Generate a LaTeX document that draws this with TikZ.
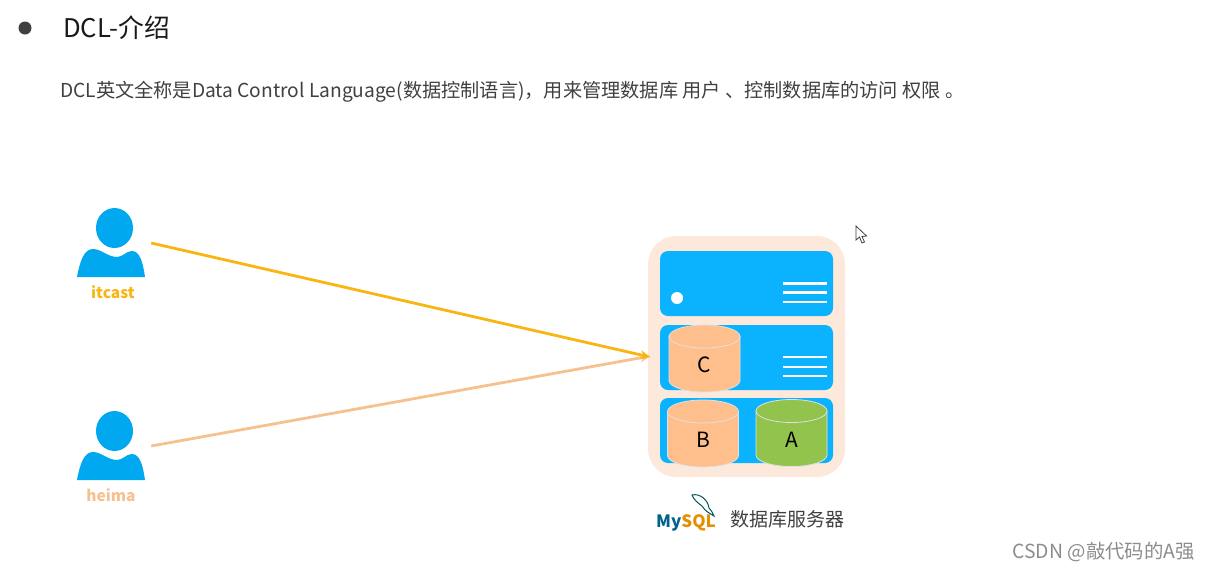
\documentclass[tikz,border=0pt]{standalone}
\usepackage{fontspec}
\setmainfont{Noto Sans CJK SC}
\usetikzlibrary{arrows.meta}
\definecolor{slotblue}{HTML}{0BB3FF}
\definecolor{userblue}{HTML}{00A8F0}
\definecolor{serverbg}{HTML}{FCE9DC}
\definecolor{dbpeach}{HTML}{FFBF8C}
\definecolor{dbgreen}{HTML}{92C34D}
\definecolor{linkgold}{HTML}{F9B612}
\definecolor{linkpeach}{HTML}{F6C18F}
\definecolor{textgray}{HTML}{404040}
\tikzset{
	usericon/.pic={
		\fill[userblue] (3.5,-15) ellipse [x radius=18.5, y radius=20];
		\fill[userblue] (-34,34) .. controls (-31,18) and (-27,6) .. (-18,6)
			.. controls (-10,6) and (-3,14) .. (6,14)
			.. controls (12,14) and (15,8) .. (21,8)
			.. controls (29,8) and (32,20) .. (34,34) -- cycle;
	},
	slotbox/.style={fill=slotblue, rounded corners=8pt, minimum width=173pt, minimum height=65pt, inner sep=0pt},
	dbedge/.style={draw=white!88!black, line width=.8pt},
	dbname/.style={inner sep=0pt, font=\fontsize{21}{24}\selectfont, text=black},
	usernode/.style={minimum width=80pt, minimum height=70pt, inner sep=0pt},
	username/.style={font=\fontsize{15.5}{19}\selectfont\bfseries},
	linkarrow/.style={-{Stealth[length=10pt,width=9pt]}, line width=2.8pt, shorten >=-2.5pt},
}
\newcommand{\dbcan}[5]{
	\path[dbedge, fill=#4] (#2-35.5,#3-22) -- (#2-35.5,#3+22) arc [start angle=180, end angle=0, x radius=35.5, y radius=11.5] -- (#2+35.5,#3-22) -- cycle;
	\path[dbedge, fill=#4] (#2,#3-22) ellipse [x radius=35.5, y radius=11.5];
	\node (#1) at (#2,#3+6.5) [dbname] {#5};
}
\begin{document}
\begin{tikzpicture}[x=1pt,y=-1pt]
	\useasboundingbox (0,0) rectangle (1210,571);
	\fill[textgray] (25,28) circle (6.5);
	\node (title) at (63,28) [anchor=west, inner sep=0pt, font=\fontsize{25.7}{30}\selectfont, text=black!90] {DCL-介绍};
	\node (intro) at (60,92) [anchor=west, inner sep=0pt, font=\fontsize{19.2}{24}\selectfont, text=textgray] {DCL英文全称是Data Control Language(数据控制语言)，用来管理数据库 用户 、控制数据库的访问 权限 。};

	\node (server) at (746.5,356.5) [fill=serverbg, rounded corners=28pt, minimum width=197pt, minimum height=241pt, inner sep=0pt] {};
	\node (slota) at (746.5,283.5) [slotbox] {};
	\node (slotb) at (746.5,357.5) [slotbox] {};
	\node (slotc) at (746.5,430.5) [slotbox] {};
	\fill[white] (677,298) circle (6);
	\foreach \y in {283.5,292.5,302,357,367,376}
		\draw[white, line width=2.2pt] (783,\y) -- (827,\y);
	\dbcan{dbc}{704.5}{358.5}{dbpeach}{C}
	\dbcan{dbb}{703}{433.5}{dbpeach}{B}
	\dbcan{dba}{791.5}{433}{dbgreen}{A}

	\pic at (111,243) {usericon};
	\pic at (111,446) {usericon};
	\node (itcast) at (111,243) [usernode] {};
	\node (heima) at (111,446) [usernode] {};
	\node (itcastname) at (113,292) [username, text=linkgold] {itcast};
	\node (heimaname) at (111,495) [username, text=linkpeach] {heima};
	\draw[linkarrow, linkpeach] (heima.east) -- (server.west);
	\draw[linkarrow, linkgold] (itcast.east) -- (server.west);

	\node (mysql) at (686,523) [inner sep=0pt, font=\fontsize{17}{20}\selectfont\bfseries] {\textcolor[HTML]{00618A}{My}\textcolor[HTML]{E48E00}{SQL}};
	\draw[draw=black!30!teal, line width=1pt] (692,495) .. controls (700,493) and (708,500) .. (709,508) .. controls (711,510) and (713,513) .. (714,516) .. controls (709,513) and (705,511) .. (702,506) .. controls (698,503) and (694,500) .. (692,495) -- cycle;
	\node (servername) at (730,519) [anchor=west, inner sep=0pt, font=\fontsize{19}{23}\selectfont, text=textgray] {数据库服务器};

	\draw[fill=white, draw=textgray, line width=.8pt] (856,226) -- (856,240) -- (859.5,237) -- (862,243) -- (864.5,242) -- (862,236.5) -- (866.5,236) -- cycle;
	\node (mark) at (1195,552) [anchor=east, inner sep=0pt, font=\fontsize{19.4}{22}\selectfont, text=black!45] {CSDN @敲代码的A强};
\end{tikzpicture}
\end{document}
